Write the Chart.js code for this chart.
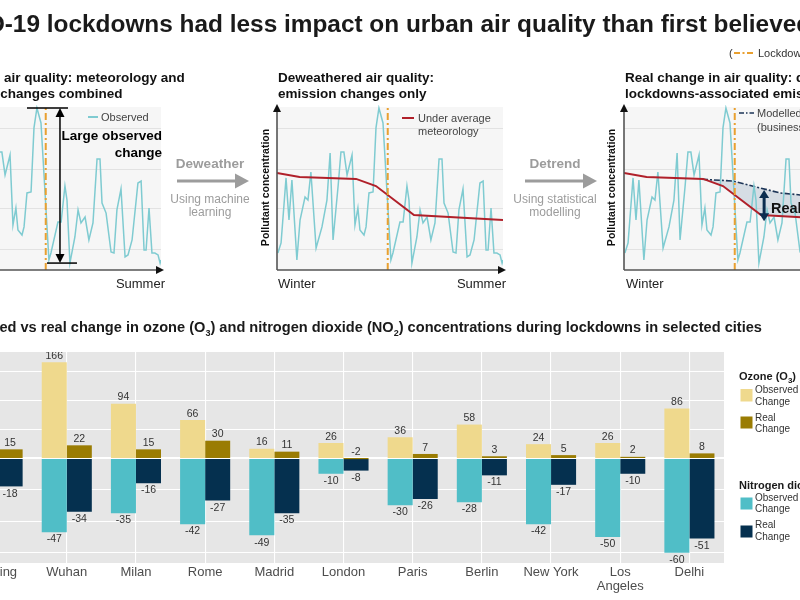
<!DOCTYPE html>
<html><head><meta charset="utf-8">
<script src="https://cdn.jsdelivr.net/npm/chart.js@4.4.1/dist/chart.umd.min.js"></script>
<style>
html,body{margin:0;padding:0;background:#fff;width:800px;height:600px;overflow:hidden;position:relative;font-family:"Liberation Sans",Arial,sans-serif}
canvas{position:absolute}
#ann{position:absolute;left:0;top:0;width:800px;height:600px;pointer-events:none;overflow:visible}
</style></head><body>
<canvas id="c1" width="266" height="190" style="left:-85px;top:95px"></canvas>
<canvas id="c2" width="266" height="190" style="left:257px;top:95px"></canvas>
<canvas id="c3" width="266" height="190" style="left:604px;top:95px"></canvas>
<canvas id="bars" width="761" height="248" style="left:-37px;top:352px"></canvas>
<svg id="ann" xmlns="http://www.w3.org/2000/svg" font-family="Liberation Sans, Arial, sans-serif">
  <text x="-72.5" y="31.5" font-size="24.4" font-weight="bold" fill="#1a1a1a">COVID-19 lockdowns had less impact on urban air quality than first believed</text>
  <text x="729" y="57" font-size="11" fill="#333">(</text>
  <line x1="734" y1="53" x2="755" y2="53" stroke="#E9A030" stroke-width="2" stroke-dasharray="6,2.5,2,2.5"/>
  <text x="758" y="57" font-size="11" fill="#333">Lockdown period)</text>

  <g font-size="13.5" font-weight="bold" fill="#111">
    <text x="-62" y="82">Observed air quality: meteorology and</text>
    <text x="-62" y="98">emission changes combined</text>
    <text x="278" y="82">Deweathered air quality:</text>
    <text x="278" y="98">emission changes only</text>
    <text x="625" y="82">Real change in air quality: due to</text>
    <text x="625" y="98">lockdowns-associated emission changes</text>
  </g>

  <g font-size="10.5" font-weight="bold" fill="#111" text-anchor="middle">
    <text transform="translate(268.7,187.5) rotate(-90)">Pollutant concentration</text>
    <text transform="translate(614.7,187.5) rotate(-90)">Pollutant concentration</text>
  </g>

  <g font-size="13" fill="#222">
    <text x="165" y="288" text-anchor="end">Summer</text>
    <text x="278" y="288">Winter</text>
    <text x="506" y="288" text-anchor="end">Summer</text>
    <text x="626" y="288">Winter</text>
  </g>

  <g fill="#9c9c9c">
    <text x="210" y="168" text-anchor="middle" font-size="13.5" font-weight="bold">Deweather</text>
    <line x1="177" y1="181" x2="237" y2="181" stroke="#9c9c9c" stroke-width="3"/>
    <polygon points="249,181 235,173.5 235,188.5"/>
    <text x="210" y="202.5" text-anchor="middle" font-size="12">Using machine</text>
    <text x="210" y="216" text-anchor="middle" font-size="12">learning</text>

    <text x="555" y="168" text-anchor="middle" font-size="13.5" font-weight="bold">Detrend</text>
    <line x1="525" y1="181" x2="585" y2="181" stroke="#9c9c9c" stroke-width="3"/>
    <polygon points="597,181 583,173.5 583,188.5"/>
    <text x="555" y="202.5" text-anchor="middle" font-size="12">Using statistical</text>
    <text x="555" y="216" text-anchor="middle" font-size="12">modelling</text>
  </g>

  <g font-size="11" fill="#444">
    <line x1="88" y1="117" x2="98" y2="117" stroke="#7FCBD1" stroke-width="2"/>
    <text x="101" y="121">Observed</text>
    <line x1="402" y1="118" x2="414" y2="118" stroke="#B0202A" stroke-width="2"/>
    <text x="418" y="122">Under average</text>
    <text x="418" y="135">meteorology</text>
    <line x1="739" y1="113" x2="754" y2="113" stroke="#1D3557" stroke-width="1.6" stroke-dasharray="5,2,1.5,2"/>
    <text x="757" y="117">Modelled</text>
    <text x="757" y="130.5">(business as usual)</text>
  </g>

  <g font-size="13.5" font-weight="bold" fill="#000" text-anchor="end">
    <text x="162" y="140">Large observed</text>
    <text x="162" y="156.5">change</text>
  </g>
  <text x="771" y="213" font-size="14.5" font-weight="bold" fill="#111">Real change</text>

  <text x="762" y="332" font-size="14.6" font-weight="bold" fill="#1a1a1a" text-anchor="end">Observed vs real change in ozone (O<tspan font-size="9" dy="4">3</tspan><tspan dy="-4">) and nitrogen dioxide (NO</tspan><tspan font-size="9" dy="4">2</tspan><tspan dy="-4">) concentrations during lockdowns in selected cities</tspan></text>

  <g font-size="10" fill="#333">
    <text x="739" y="380" font-size="11" font-weight="bold" fill="#1a1a1a">Ozone (O<tspan font-size="8" dy="3">3</tspan><tspan dy="-3">)</tspan></text>
    <rect x="740.5" y="389" width="12" height="12.5" fill="#EFD98D"/>
    <text x="755" y="393">Observed</text>
    <text x="755" y="404.5">Change</text>
    <rect x="740.5" y="416.5" width="12" height="12" fill="#9A7C03"/>
    <text x="755" y="420.5">Real</text>
    <text x="755" y="432">Change</text>

    <text x="739" y="489" font-size="11" font-weight="bold" fill="#1a1a1a">Nitrogen dioxide (NO<tspan font-size="8" dy="3">2</tspan><tspan dy="-3">)</tspan></text>
    <rect x="740.5" y="497.5" width="12" height="12" fill="#50BEC7"/>
    <text x="755" y="500.5">Observed</text>
    <text x="755" y="511.5">Change</text>
    <rect x="740.5" y="525.5" width="12" height="12" fill="#05304F"/>
    <text x="755" y="528">Real</text>
    <text x="755" y="539.5">Change</text>
  </g>
</svg>
<script>
// ---------- Top panels: schematic pollutant series ----------
const observedTime = [0.4,1.8,4.0,5.3,6.6,8.8,10.2,12.4,13.7,15.0,17.3,19.9,22.1,23.5,24.8,27.0,28.3,29.6,31.0,33.2,34.5,35.8,36.7,38.5,39.4,40.7,42.5,43.8,45.1,46.9,48.7,50.4,51.3,54.4,55.8,57.5,58.4,59.7,61.9,63.3,64.6,66.4,68.1,69.9,71.7,73.0,73.9,75.7,77.9,79.2,80.5,82.3,84.1,85.4,87.2,89.8,91.2,92.5,93.4,94.7,96.0,97.3,98.7,99.6,100];
const observedLevel = [10.3,16.4,55.8,30.3,54.5,6.1,30.3,44.2,42.4,59.4,13.3,26.1,42.4,70.9,18.2,50.3,71.5,71.5,57.6,69.7,27.3,37.6,24.2,21.2,26.1,46.7,47.3,86.1,98.2,89.1,46.7,6.1,10.3,29.1,29.1,50.9,42.4,4.2,20.0,36.4,28.5,32.1,18.2,28.5,67.3,67.3,40.6,34.5,10.9,10.3,36.4,49.1,7.9,9.1,18.2,52.7,53.9,12.1,12.1,37.6,10.3,10.3,9.1,4.2,6.1];
const deweatheredTime = [0,10,35,43.8,60.6,100];
const deweatheredLevel = [58.8,56.4,55.2,50.9,33.3,30.3];
const modelledTime = [34.5,48.2,69,77.9,100];
const modelledLevel = [55.0,53.9,46.7,45.5,44.5];
const lockdownTime = 49;
const panelGridLevels = [12.7,37,61.2,85.5];

// ---------- Bottom chart ----------
const cityLabels = ['Beijing','Wuhan','Milan','Rome','Madrid','London','Paris','Berlin','New York',['Los','Angeles'],'Delhi'];
const ozoneObserved = [41,166,94,66,16,26,36,58,24,26,86];
const ozoneReal = [15,22,15,30,11,-2,7,3,5,2,8];
const no2Observed = [-36,-47,-35,-42,-49,-10,-30,-28,-42,-50,-60];
const no2Real = [-18,-34,-16,-27,-35,-8,-26,-11,-17,-10,-51];
const ozoneGridTicks = [50,100,150];
const no2GridTicks = [-60,-40,-20,0];

const FONT = '"Liberation Sans", Arial, sans-serif';
const toXY = (xs, ys) => xs.map((x,i)=>({x, y: ys[i]}));
function interp(xs, ys, t){
  for(let i=1;i<xs.length;i++){ if(t<=xs[i]){ const f=(t-xs[i-1])/(xs[i]-xs[i-1]); return ys[i-1]+f*(ys[i]-ys[i-1]); } }
  return ys[ys.length-1];
}

const panelFrame = {
  id:'panelFrame',
  beforeDraw(chart){
    const {ctx, chartArea:{left,right,top,bottom}} = chart;
    ctx.save(); ctx.fillStyle='#f6f6f6'; ctx.fillRect(left, top+2, right-left, bottom-top-2); ctx.restore();
  },
  afterDatasetsDraw(chart){
    const {ctx, chartArea:{top,bottom}} = chart;
    const x = chart.scales.x.getPixelForValue(lockdownTime);
    ctx.save(); ctx.strokeStyle='#E9A030'; ctx.lineWidth=2; ctx.setLineDash([7,3,2,3]);
    ctx.beginPath(); ctx.moveTo(x,bottom); ctx.lineTo(x,top); ctx.stroke(); ctx.restore();
  },
  afterDraw(chart){
    const {ctx, chartArea:{left,right,top,bottom}} = chart;
    ctx.save(); ctx.strokeStyle='#555'; ctx.lineWidth=1.6;
    ctx.beginPath(); ctx.moveTo(left,bottom); ctx.lineTo(right-2,bottom); ctx.stroke();
    ctx.beginPath(); ctx.moveTo(left,bottom); ctx.lineTo(left,top+4); ctx.stroke();
    ctx.fillStyle='#111';
    ctx.beginPath(); ctx.moveTo(right+3,bottom); ctx.lineTo(right-5,bottom-4); ctx.lineTo(right-5,bottom+4); ctx.closePath(); ctx.fill();
    ctx.beginPath(); ctx.moveTo(left,top-1); ctx.lineTo(left-4,top+7); ctx.lineTo(left+4,top+7); ctx.closePath(); ctx.fill();
    ctx.restore();
  }
};

function arrowV(ctx, x, y1, y2, color, lw, hw, hl){
  ctx.strokeStyle=color; ctx.fillStyle=color; ctx.lineWidth=lw;
  ctx.beginPath(); ctx.moveTo(x,y1+hl-1); ctx.lineTo(x,y2-hl+1); ctx.stroke();
  ctx.beginPath(); ctx.moveTo(x,y1); ctx.lineTo(x-hw,y1+hl); ctx.lineTo(x+hw,y1+hl); ctx.closePath(); ctx.fill();
  ctx.beginPath(); ctx.moveTo(x,y2); ctx.lineTo(x-hw,y2-hl); ctx.lineTo(x+hw,y2-hl); ctx.closePath(); ctx.fill();
}

const observedRangeArrow = {
  id:'observedRangeArrow',
  afterDatasetsDraw(chart){
    const ctx=chart.ctx, xs=chart.scales.x, ys=chart.scales.y;
    const yTop = ys.getPixelForValue(Math.max(...observedLevel));
    const after = observedLevel.filter((v,i)=>observedTime[i]>lockdownTime);
    const yBot = ys.getPixelForValue(Math.min(...after));
    const ax = xs.getPixelForValue(55.3);
    ctx.save();
    ctx.strokeStyle='#000'; ctx.lineWidth=1.5;
    ctx.beginPath(); ctx.moveTo(ax-33,yTop); ctx.lineTo(ax+8,yTop); ctx.stroke();
    ctx.beginPath(); ctx.moveTo(ax-13,yBot); ctx.lineTo(ax+17,yBot); ctx.stroke();
    arrowV(ctx, ax, yTop, yBot, '#000', 1.5, 4.5, 9);
    ctx.restore();
  }
};

const realChangeArrow = {
  id:'realChangeArrow',
  afterDatasetsDraw(chart){
    const ctx=chart.ctx, xs=chart.scales.x, ys=chart.scales.y;
    const t = 62;
    const x = xs.getPixelForValue(t);
    const y1 = ys.getPixelForValue(interp(modelledTime, modelledLevel, t));
    const y2 = ys.getPixelForValue(interp(deweatheredTime, deweatheredLevel, t));
    ctx.save(); arrowV(ctx, x, y1+1, y2+6, '#0B2D4F', 3, 5, 8); ctx.restore();
  }
};

function linePanel(id, datasets, extra){
  return new Chart(document.getElementById(id), {
    type:'line',
    data:{datasets},
    options:{
      responsive:false, animation:false, events:[],
      layout:{padding:{left:20,right:20,top:10,bottom:15}},
      plugins:{legend:{display:false}, tooltip:{enabled:false}},
      elements:{point:{radius:0}, line:{tension:0}},
      scales:{
        x:{type:'linear', min:0, max:100, display:false},
        y:{min:0, max:100, display:true, border:{display:false}, ticks:{display:false},
           grid:{drawTicks:false, color:'#e2e2e2', lineWidth:1},
           afterBuildTicks:s=>{ s.ticks = panelGridLevels.map(v=>({value:v})); }}
      }
    },
    plugins:[panelFrame, ...extra]
  });
}

const obsDS = () => ({data: toXY(observedTime, observedLevel), borderColor:'#7FCBD1', borderWidth:1.5, fill:false});
const dewDS = () => ({data: toXY(deweatheredTime, deweatheredLevel), borderColor:'#B0202A', borderWidth:2, fill:false});

linePanel('c1', [obsDS()], [observedRangeArrow]);
linePanel('c2', [dewDS(), obsDS()], []);
linePanel('c3', [dewDS(), obsDS(),
  {data: toXY(modelledTime, modelledLevel), borderColor:'#1D3557', borderWidth:1.6, borderDash:[6,2,2,2],
   fill:{target:0}, backgroundColor:'rgba(170,186,202,0.42)'}], [realChangeArrow]);

// ---------- Bar chart ----------
const barLabels = {
  id:'barLabels',
  afterDatasetsDraw(chart){
    const ctx = chart.ctx; ctx.save();
    ctx.font = '10.5px ' + FONT; ctx.fillStyle = '#333'; ctx.textAlign='center';
    chart.data.datasets.forEach((ds,i)=>{
      const meta = chart.getDatasetMeta(i);
      const isOzone = ds.yAxisID === 'yO3';
      meta.data.forEach((bar,j)=>{
        const v = ds.data[j];
        if(isOzone){ ctx.textBaseline='bottom'; ctx.fillText(String(v), bar.x, Math.min(bar.y,bar.base)-1); }
        else { ctx.textBaseline='top'; ctx.fillText(String(v), bar.x, Math.max(bar.y,bar.base)+2); }
      });
    });
    ctx.restore();
  }
};
const bgPlugin = {
  id:'bg',
  beforeDraw(chart){ const {ctx, chartArea:{left,right,top,bottom}} = chart; ctx.save(); ctx.fillStyle='#E6E6E6'; ctx.fillRect(left,top,right-left,bottom-top); ctx.restore(); }
};
const gridStyle = {drawTicks:false, color:'#ffffff', lineWidth: c => (c.tick && c.tick.value===0) ? 2 : 1.1};

new Chart(document.getElementById('bars'), {
  type:'bar',
  data:{
    labels: cityLabels,
    datasets:[
      {label:'Ozone observed change', data: ozoneObserved, backgroundColor:'#EFD98D', yAxisID:'yO3', stack:'observed'},
      {label:'Ozone real change', data: ozoneReal, backgroundColor:'#9A7C03', yAxisID:'yO3', stack:'real'},
      {label:'NO2 observed change', data: no2Observed, backgroundColor:'#50BEC7', yAxisID:'yNO2', stack:'observed'},
      {label:'NO2 real change', data: no2Real, backgroundColor:'#05304F', yAxisID:'yNO2', stack:'real'}
    ]
  },
  options:{
    responsive:false, animation:false, events:[],
    layout:{padding:0},
    datasets:{bar:{categoryPercentage:0.724, barPercentage:1.0}},
    plugins:{legend:{display:false}, tooltip:{enabled:false}},
    scales:{
      x:{offset:true, border:{display:false},
         grid:{drawTicks:false, color:'#ffffff', lineWidth:1.1, offset:false},
         ticks:{autoSkip:false, maxRotation:0, padding:3, color:'#4d4d4d', font:{family:FONT, size:13, lineHeight:1.05}},
         afterFit:s=>{ s.height = 37; }},
      yNO2:{position:'left', min:-66.5, max:67.1, stacked:false, border:{display:false}, ticks:{display:false},
         grid:gridStyle, afterBuildTicks:s=>{ s.ticks = no2GridTicks.map(v=>({value:v})); }},
      yO3:{position:'left', min:-182.3, max:184, stacked:false, border:{display:false}, ticks:{display:false},
         grid:gridStyle, afterBuildTicks:s=>{ s.ticks = ozoneGridTicks.map(v=>({value:v})); }}
    }
  },
  plugins:[bgPlugin, barLabels]
});
</script>
</body></html>
